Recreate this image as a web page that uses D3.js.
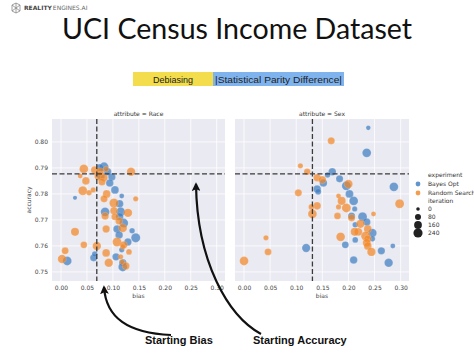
<!DOCTYPE html>
<html>
<head>
<meta charset="utf-8">
<script src="https://cdn.jsdelivr.net/npm/d3@7"></script>
<style>
  body { margin: 0; background: #fff; }
  svg { display: block; }
</style>
</head>
<body>
<script>
// [bias, accuracy, iteration]
var raceBayes = [
  [0.083, 0.7904, 230], [0.075, 0.7900, 150], [0.090, 0.7885, 140], [0.077, 0.7869, 150],
  [0.098, 0.7865, 140], [0.094, 0.7842, 150], [0.104, 0.7815, 160], [0.027, 0.7785, 20],
  [0.117, 0.7792, 40], [0.113, 0.7762, 150], [0.085, 0.7731, 220], [0.115, 0.7731, 230],
  [0.113, 0.7712, 150], [0.121, 0.7688, 220], [0.108, 0.7665, 150], [0.137, 0.7658, 60],
  [0.144, 0.7631, 240], [0.112, 0.7642, 150], [0.129, 0.7615, 140], [0.117, 0.7585, 50],
  [0.106, 0.7558, 140], [0.012, 0.7542, 220], [0.063, 0.7554, 130], [0.065, 0.7569, 60],
  [0.119, 0.7519, 220], [0.119, 0.7535, 140]
];
var raceRandom = [
  [0.044, 0.7896, 220], [0.065, 0.7892, 150], [0.075, 0.7885, 180], [0.073, 0.7869, 230],
  [0.083, 0.7862, 140], [0.087, 0.7896, 60], [0.135, 0.7885, 200], [0.037, 0.7869, 40],
  [0.048, 0.7850, 150], [0.042, 0.7812, 230], [0.054, 0.7804, 60], [0.062, 0.7815, 50],
  [0.079, 0.7846, 130], [0.088, 0.7800, 160], [0.083, 0.7781, 130], [0.144, 0.7781, 50],
  [0.102, 0.7765, 240], [0.102, 0.7735, 150], [0.129, 0.7727, 200], [0.085, 0.7715, 140],
  [0.104, 0.7712, 130], [0.112, 0.7696, 140], [0.027, 0.7654, 180], [0.087, 0.7665, 140],
  [0.119, 0.7669, 200], [0.108, 0.7615, 230], [0.044, 0.7604, 110], [0.069, 0.7600, 200],
  [0.119, 0.7596, 50], [0.121, 0.7604, 140], [0.008, 0.7581, 120], [0.087, 0.7573, 160],
  [0.115, 0.7558, 50], [0.131, 0.7577, 70], [0.002, 0.7550, 200], [0.092, 0.7535, 200],
  [0.118, 0.7538, 50], [0.125, 0.7523, 140]
];
var sexBayes = [
  [0.238, 0.8054, 30], [0.235, 0.7958, 220], [0.169, 0.7885, 150], [0.160, 0.7873, 60],
  [0.152, 0.7842, 150], [0.183, 0.7858, 130], [0.196, 0.7831, 230], [0.287, 0.7827, 220],
  [0.140, 0.7819, 150], [0.142, 0.7808, 80], [0.202, 0.7800, 170], [0.210, 0.7773, 220],
  [0.212, 0.7742, 50], [0.206, 0.7715, 130], [0.227, 0.7712, 230], [0.235, 0.7692, 150],
  [0.213, 0.7681, 60], [0.246, 0.7650, 200], [0.213, 0.7623, 70], [0.246, 0.7627, 60],
  [0.194, 0.7604, 120], [0.285, 0.7600, 40], [0.119, 0.7592, 190], [0.263, 0.7581, 140],
  [0.210, 0.7546, 150], [0.277, 0.7535, 200]
];
var sexRandom = [
  [0.167, 0.8004, 130], [0.108, 0.7908, 50], [0.121, 0.7885, 100], [0.140, 0.7862, 140],
  [0.150, 0.7854, 150], [0.200, 0.7838, 200], [0.104, 0.7804, 130], [0.181, 0.7792, 40],
  [0.187, 0.7773, 180], [0.298, 0.7762, 230], [0.140, 0.7754, 150], [0.129, 0.7750, 70],
  [0.181, 0.7750, 50], [0.196, 0.7746, 230], [0.131, 0.7723, 220], [0.179, 0.7715, 110],
  [0.206, 0.7708, 130], [0.248, 0.7723, 40], [0.223, 0.7685, 190], [0.237, 0.7665, 160],
  [0.219, 0.7654, 170], [0.212, 0.7654, 180], [0.233, 0.7638, 240], [0.185, 0.7635, 220],
  [0.042, 0.7631, 50], [0.237, 0.7627, 140], [0.235, 0.7612, 170], [0.237, 0.7600, 160],
  [0.046, 0.7577, 120], [0.244, 0.7577, 200], [0.000, 0.7542, 220]
];

var attributes = ["Race", "Sex"];
var startBias = [0.069, 0.131];
var startAccuracy = 0.7877;
var experiments = ["Bayes Opt", "Random Search"];
var iterationLegend = [0, 80, 160, 240];
var xTicks = [0, 0.05, 0.10, 0.15, 0.20, 0.25, 0.30];
var yTicks = [0.75, 0.76, 0.77, 0.78, 0.79, 0.80];

var colors = ["#3a7bbf", "#f28522"];

var width = 474, height = 355;

var svg = d3.select("body").append("svg")
    .attr("width", width)
    .attr("height", height)
    .style("background", "#fff");

// header logo
var logo = svg.append("g").attr("transform", "translate(10,3)");
logo.append("path")
    .attr("d", "M2,2 L6,0 L10,2 L10,8 L6,10 L2,8 Z M6,0 L6,10 M2,2 L10,8 M10,2 L2,8")
    .attr("fill", "none").attr("stroke", "#888").attr("stroke-width", 0.8);
var brand1 = logo.append("text")
    .attr("x", 14).attr("y", 6.8)
    .style("font", "bold 6px 'DejaVu Sans'")
    .attr("fill", "#444")
    .text("REALITY");
var bw = brand1.node().getComputedTextLength();
logo.append("text")
    .attr("x", 14 + bw + 1).attr("y", 6.8)
    .style("font", "6px 'DejaVu Sans'")
    .attr("fill", "#666")
    .text("ENGINES.AI");

// title
svg.append("text")
    .attr("x", 237).attr("y", 39)
    .attr("text-anchor", "middle")
    .attr("textLength", 350)
    .attr("lengthAdjust", "spacingAndGlyphs")
    .style("font", "28px Lato")
    .attr("fill", "#111")
    .text("UCI Census Income Dataset");

// banner
svg.append("rect").attr("x", 133).attr("y", 72).attr("width", 80).attr("height", 14).attr("fill", "#f3dd4c");
svg.append("rect").attr("x", 213).attr("y", 72).attr("width", 131).attr("height", 14).attr("fill", "#7fb3ee");
svg.append("text").attr("x", 173).attr("y", 82.5).attr("text-anchor", "middle")
    .style("font", "9px 'Liberation Sans'").attr("fill", "#222").text("Debiasing");
svg.append("text").attr("x", 278.5).attr("y", 82.5).attr("text-anchor", "middle")
    .attr("textLength", 127).attr("lengthAdjust", "spacingAndGlyphs")
    .style("font", "9px 'Liberation Sans'").attr("fill", "#222").text("|Statistical Parity Difference|");

// scales
var y = d3.scaleLinear().domain([0.7465, 0.8088]).range([281, 119]);
var area = d3.scaleLinear().domain([0, 240]).range([3.2, 21]);
function radius(it) { return Math.sqrt(area(it)); }

var panelX = [[52, 225], [235, 409]];
var panelData = [[raceBayes, raceRandom], [sexBayes, sexRandom]];

attributes.forEach(function(attr, i) {
    var x = d3.scaleLinear().domain([-0.0173, 0.316]).range(panelX[i]);
    var g = svg.append("g");

    g.append("rect")
        .attr("x", panelX[i][0]).attr("y", 119)
        .attr("width", panelX[i][1] - panelX[i][0]).attr("height", 162)
        .attr("fill", "#eaeaf2");

    g.selectAll(".vgrid").data(xTicks).enter().append("line")
        .attr("x1", function(d) { return x(d); }).attr("x2", function(d) { return x(d); })
        .attr("y1", 119).attr("y2", 281)
        .attr("stroke", "#fff").attr("stroke-width", 0.8);
    g.selectAll(".hgrid").data(yTicks).enter().append("line")
        .attr("x1", panelX[i][0]).attr("x2", panelX[i][1])
        .attr("y1", function(d) { return y(d); }).attr("y2", function(d) { return y(d); })
        .attr("stroke", "#fff").attr("stroke-width", 0.8);

    // x axis
    var xAxis = g.append("g")
        .attr("transform", "translate(0,281)")
        .call(d3.axisBottom(x).tickValues(xTicks).tickFormat(d3.format(".2f")).tickSize(0).tickPadding(5));
    xAxis.select(".domain").remove();
    xAxis.selectAll("text").style("font", "6px 'DejaVu Sans'").attr("fill", "#444");

    g.append("text")
        .attr("x", (panelX[i][0] + panelX[i][1]) / 2).attr("y", 298)
        .attr("text-anchor", "middle")
        .style("font", "6px 'DejaVu Sans'").attr("fill", "#444")
        .text("bias");

    g.append("text")
        .attr("x", (panelX[i][0] + panelX[i][1]) / 2).attr("y", 116)
        .attr("text-anchor", "middle")
        .style("font", "6px 'DejaVu Sans'").attr("fill", "#333")
        .text("attribute = " + attr);

    if (i == 0) {
        var yAxis = g.append("g")
            .attr("transform", "translate(52,0)")
            .call(d3.axisLeft(y).tickValues(yTicks).tickFormat(d3.format(".2f")).tickSize(0).tickPadding(4));
        yAxis.select(".domain").remove();
        yAxis.selectAll("text").style("font", "6px 'DejaVu Sans'").attr("fill", "#444");
        g.append("text")
            .attr("transform", "translate(31,200) rotate(-90)")
            .attr("text-anchor", "middle")
            .style("font", "6px 'DejaVu Sans'").attr("fill", "#444")
            .text("accuracy");
    }

    // points
    panelData[i].forEach(function(series, k) {
        g.selectAll(".pt" + k).data(series).enter().append("circle")
            .attr("cx", function(d) { return x(d[0]); })
            .attr("cy", function(d) { return y(d[1]); })
            .attr("r", function(d) { return radius(d[2]); })
            .attr("fill", colors[k])
            .attr("fill-opacity", 0.7)
            .attr("stroke", "#fff")
            .attr("stroke-opacity", 0.5)
            .attr("stroke-width", 0.3);
    });

    // starting lines
    g.append("line")
        .attr("x1", x(startBias[i])).attr("x2", x(startBias[i]))
        .attr("y1", 119).attr("y2", 281)
        .attr("stroke", "#3a3a3a").attr("stroke-width", 1.3).attr("stroke-dasharray", "5,2.5");
    g.append("line")
        .attr("x1", panelX[i][0]).attr("x2", panelX[i][1])
        .attr("y1", y(startAccuracy)).attr("y2", y(startAccuracy))
        .attr("stroke", "#3a3a3a").attr("stroke-width", 1.3).attr("stroke-dasharray", "5,2.5");
});

// legend
var leg = svg.append("g").style("font", "6px 'DejaVu Sans'");
leg.append("text").attr("x", 428).attr("y", 177).attr("fill", "#333").text("experiment");
experiments.forEach(function(e, k) {
    var ly = 184 + k * 9;
    leg.append("circle").attr("cx", 418).attr("cy", ly).attr("r", 2.4)
        .attr("fill", colors[k]).attr("fill-opacity", 0.8);
    leg.append("text").attr("x", 428).attr("y", ly + 2).attr("fill", "#333").text(e);
});
leg.append("text").attr("x", 428).attr("y", 203).attr("fill", "#333").text("iteration");
iterationLegend.forEach(function(it, k) {
    var ly = 209 + k * 8;
    leg.append("circle").attr("cx", 418).attr("cy", ly).attr("r", radius(it)).attr("fill", "#222");
    leg.append("text").attr("x", 428).attr("y", ly + 2).attr("fill", "#333").text(it);
});

// arrows
var defs = svg.append("defs");
defs.append("marker")
    .attr("id", "head")
    .attr("viewBox", "0 0 10 10")
    .attr("refX", 8).attr("refY", 5)
    .attr("markerWidth", 4).attr("markerHeight", 4)
    .attr("markerUnits", "strokeWidth")
    .attr("orient", "auto")
  .append("path")
    .attr("d", "M0,0 L10,5 L0,10 L2,5 Z")
    .attr("fill", "#111");

svg.append("path")
    .attr("d", "M171,335 C128,333 106,318 104,287")
    .attr("fill", "none").attr("stroke", "#111").attr("stroke-width", 2.2)
    .attr("marker-end", "url(#head)");
svg.append("path")
    .attr("d", "M261,334 C228,316 197,262 196,184")
    .attr("fill", "none").attr("stroke", "#111").attr("stroke-width", 2.2)
    .attr("marker-end", "url(#head)");

svg.append("text").attr("x", 145).attr("y", 344)
    .style("font", "bold 11px 'Liberation Sans'").attr("fill", "#111").text("Starting Bias");
svg.append("text").attr("x", 253).attr("y", 344)
    .style("font", "bold 11px 'Liberation Sans'").attr("fill", "#111").text("Starting Accuracy");
</script>
</body>
</html>
